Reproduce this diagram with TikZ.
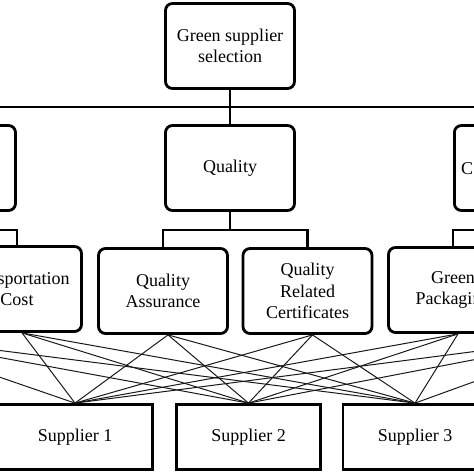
\documentclass[tikz,border=0pt]{standalone}
\usepackage{fontspec}
\setmainfont{Liberation Serif}
\begin{document}
\begin{tikzpicture}[x=1pt,y=-1pt,
  lbl/.style={font=\fontsize{18}{21.5}\selectfont},
  rbox/.style={lbl,draw=black,line width=2.8pt,rounded corners=7pt,minimum width=129pt,minimum height=85pt,align=center,inner sep=0pt},
  sbox/.style={lbl,draw=black,line width=2.8pt,minimum height=65pt,inner sep=0pt},
  tree/.style={draw=black,line width=2.8pt},
  link/.style={draw=black!90,line width=1pt}]
\useasboundingbox (0,0) rectangle (474,474);
% level 1
\node[rbox] (top) at (230,46) {Green supplier\\selection};
% level 2
\node[rbox] (La) at (-49,168) {};
\node[rbox] (Q) at (230,168) {Quality};
\node[rbox,anchor=west] (Lc) at (453,168) {};
\node[lbl,anchor=base west,inner sep=0pt] (Ctxt) at (461,174) {C};
% level 3
\node[rbox] (p) at (-128,291) {};
\node[rbox] (t) at (17,289) {Transportation\\Cost};
\node[rbox] (qa) at (163,291) {Quality\\Assurance};
\node[rbox] (qrc) at (307.5,291) {Quality\\Related\\Certificates};
\node[rbox] (gp) at (453,290) {Green\\Packaging};
\node[rbox] (r) at (598,291) {};
% suppliers
\node[sbox,minimum width=155pt] (s1) at (75,437) {Supplier 1};
\node[sbox,minimum width=144pt] (s2) at (248.5,437) {Supplier 2};
\node[sbox,minimum width=144pt] (s3) at (415,437) {Supplier 3};
% tree connectors
\coordinate (hl) at (-200,107);
\coordinate (hr) at (680,107);
\coordinate (bus) at (0,230);
\draw[tree] (hl) -- (hr);
\draw[tree] (top.south) -- (Q.north);
\draw[tree] (La.north |- hl) -- (La.north);
\draw[tree] (Lc.north |- hl) -- (Lc.north);
\draw[tree] (La.south) -- (La.south |- bus);
\draw[tree] (Q.south) -- (Q.south |- bus);
\draw[tree] (Lc.south) -- (Lc.south |- bus);
\draw[tree] (p.north) -- (p.north |- bus) -- (t.north |- bus) -- (t.north);
\draw[tree] (qa.north) -- (qa.north |- bus) -- (qrc.north |- bus) -- (qrc.north);
\draw[tree] (gp.north) -- (gp.north |- bus) -- (r.north |- bus) -- (r.north);
% criteria to suppliers
\foreach \c in {p,t,qa,qrc,gp,r}{
  \foreach \s in {s1,s2,s3}{
    \draw[link] ([xshift=5pt]\c.south) -- (\s.north);
  }
}
\end{tikzpicture}
\end{document}
